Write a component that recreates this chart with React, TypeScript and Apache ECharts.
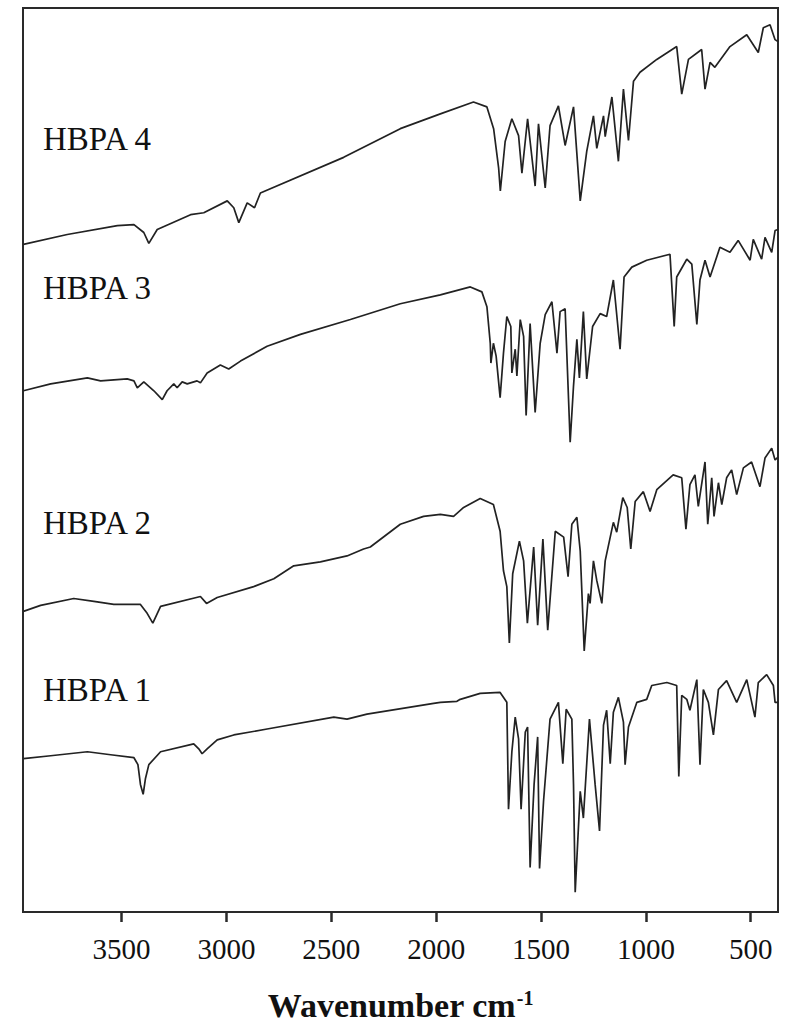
import React, { useEffect, useRef } from "react";
import * as echarts from "echarts";

// Wavenumber (cm-1) and offset transmittance (arbitrary units) for each sample
const hbpa4Wn = [3968, 3759, 3520, 3441, 3394, 3370, 3330, 3171, 3108, 2996, 2965, 2941, 2901, 2866, 2838, 2441, 2171, 1980, 1822, 1758, 1726, 1702, 1694, 1671, 1639, 1607, 1591, 1564, 1528, 1512, 1480, 1457, 1417, 1385, 1345, 1313, 1282, 1250, 1234, 1202, 1194, 1162, 1131, 1107, 1083, 1059, 1028, 948, 853, 829, 797, 734, 718, 694, 671, 599, 519, 464, 440, 408, 384, 370];
const hbpa4T = [675, 685, 694, 695, 687, 676, 690, 705, 707, 719, 712, 697, 717, 712, 727, 763, 792, 807, 819, 814, 792, 752, 729, 779, 802, 785, 747, 802, 734, 797, 732, 795, 815, 775, 814, 719, 769, 805, 772, 805, 784, 824, 759, 832, 780, 840, 849, 862, 875, 827, 862, 872, 832, 859, 854, 875, 887, 869, 894, 897, 882, 880];

const hbpa3Wn = [3968, 3838, 3663, 3600, 3473, 3441, 3425, 3394, 3346, 3306, 3283, 3251, 3235, 3211, 3187, 3140, 3124, 3092, 3029, 2989, 2933, 2806, 2647, 2409, 2171, 1980, 1837, 1782, 1758, 1742, 1739, 1727, 1714, 1695, 1679, 1663, 1644, 1639, 1623, 1615, 1599, 1583, 1571, 1552, 1528, 1504, 1480, 1448, 1424, 1409, 1385, 1361, 1345, 1329, 1317, 1298, 1282, 1254, 1218, 1187, 1155, 1123, 1104, 1067, 996, 885, 865, 853, 805, 781, 757, 742, 718, 694, 647, 599, 560, 503, 488, 448, 432, 400, 384, 370];
const hbpa3T = [527, 534, 540, 537, 539, 537, 530, 536, 527, 518, 527, 534, 530, 536, 534, 537, 535, 545, 553, 549, 557, 572, 584, 599, 615, 624, 632, 627, 612, 575, 555, 575, 562, 520, 565, 602, 592, 545, 569, 542, 599, 582, 502, 595, 505, 575, 604, 617, 565, 607, 610, 475, 532, 579, 540, 607, 539, 592, 605, 602, 639, 569, 642, 652, 659, 665, 592, 642, 660, 655, 594, 639, 659, 642, 672, 667, 679, 659, 680, 660, 682, 667, 689, 690];

const hbpa2Wn = [3968, 3886, 3728, 3632, 3537, 3410, 3378, 3351, 3314, 3124, 3095, 3044, 2870, 2774, 2679, 2552, 2425, 2346, 2314, 2171, 2060, 1980, 1917, 1869, 1790, 1727, 1695, 1679, 1663, 1651, 1635, 1603, 1583, 1565, 1535, 1516, 1491, 1468, 1432, 1392, 1371, 1353, 1329, 1313, 1294, 1274, 1266, 1250, 1234, 1210, 1194, 1155, 1139, 1110, 1089, 1072, 1051, 1012, 980, 948, 870, 829, 809, 790, 766, 750, 718, 705, 686, 675, 654, 638, 615, 591, 567, 535, 496, 456, 432, 400, 384, 370];
const hbpa2T = [304, 310, 317, 314, 311, 311, 302, 292, 309, 319, 312, 318, 329, 337, 350, 354, 360, 367, 369, 392, 400, 402, 400, 409, 418, 412, 385, 345, 329, 272, 342, 375, 355, 292, 369, 290, 377, 285, 385, 379, 339, 392, 399, 365, 264, 322, 312, 355, 335, 312, 355, 394, 384, 419, 409, 367, 415, 425, 405, 427, 442, 439, 387, 432, 442, 410, 455, 392, 439, 400, 434, 412, 439, 447, 422, 449, 455, 430, 459, 469, 457, 460];

const hbpa1Wn = [3968, 3838, 3663, 3552, 3441, 3422, 3410, 3397, 3386, 3370, 3314, 3156, 3132, 3116, 3092, 3044, 2965, 2806, 2488, 2425, 2330, 2012, 1980, 1901, 1885, 1790, 1695, 1663, 1655, 1639, 1623, 1607, 1595, 1575, 1564, 1552, 1533, 1516, 1507, 1488, 1457, 1417, 1396, 1380, 1353, 1345, 1337, 1313, 1298, 1269, 1242, 1221, 1202, 1187, 1170, 1155, 1131, 1107, 1099, 1083, 1043, 996, 972, 900, 853, 843, 829, 805, 790, 757, 742, 726, 702, 678, 654, 615, 567, 519, 480, 464, 424, 392, 384, 370];
const hbpa1T = [155, 158, 162, 159, 156, 149, 129, 119, 135, 149, 162, 170, 165, 160, 165, 174, 179, 185, 197, 195, 200, 211, 212, 213, 215, 221, 222, 212, 104, 162, 197, 175, 104, 182, 187, 45, 129, 177, 44, 112, 195, 212, 150, 205, 195, 129, 20, 122, 95, 195, 129, 82, 189, 204, 150, 202, 217, 192, 149, 187, 212, 215, 229, 232, 229, 137, 219, 215, 204, 235, 149, 225, 212, 179, 225, 234, 212, 235, 197, 232, 240, 229, 212, 212];

const sampleNames = ["HBPA 4", "HBPA 3", "HBPA 2", "HBPA 1"];
const tickValues = [3500, 3000, 2500, 2000, 1500, 1000, 500];

const SERIF = "'Liberation Serif', 'Times New Roman', serif";

function pairs(wn: number[], t: number[]) {
  return wn.map((w, i) => [w, t[i]]);
}

export default function App() {
  const ref = useRef<HTMLDivElement>(null);

  useEffect(() => {
    document.body.style.margin = "0";
    if (!ref.current) return;
    const chart = echarts.init(ref.current, undefined, { renderer: "svg" });
    const spectra = [
      pairs(hbpa4Wn, hbpa4T),
      pairs(hbpa3Wn, hbpa3T),
      pairs(hbpa2Wn, hbpa2T),
      pairs(hbpa1Wn, hbpa1T),
    ];
    const labelY = [139, 288, 523, 690];
    const lineSeries = spectra.map((d, i) => ({
      name: sampleNames[i],
      type: "line",
      data: d,
      showSymbol: false,
      symbol: "none",
      silent: true,
      z: 3,
      lineStyle: { color: "#222222", width: 1.7 },
    }));
    chart.setOption({
      animation: false,
      backgroundColor: "#ffffff",
      grid: {
        left: 23,
        right: 23,
        top: 8,
        bottom: 105,
        show: true,
        borderColor: "#2a2a2a",
        borderWidth: 2,
        backgroundColor: "transparent",
      },
      xAxis: {
        type: "value",
        inverse: true,
        min: 370,
        max: 3970,
        position: "bottom",
        name: "{b|Wavenumber cm}{s|-1}",
        nameLocation: "middle",
        nameGap: 76,
        nameTextStyle: {
          rich: {
            b: { fontFamily: SERIF, fontSize: 34, fontWeight: "bold", color: "#111" },
            s: { fontFamily: SERIF, fontSize: 20, fontWeight: "bold", color: "#111", verticalAlign: "top", padding: [0, 0, 0, 1] },
          },
        },
        axisLine: { show: true, onZero: false, lineStyle: { color: "#2a2a2a", width: 2 } },
        axisTick: {
          show: true,
          inside: false,
          length: 10,
          customValues: tickValues,
          lineStyle: { color: "#2a2a2a", width: 2.5, opacity: 1 },
        },
        axisLabel: {
          show: true,
          customValues: tickValues,
          margin: 22,
          fontFamily: SERIF,
          fontSize: 29,
          color: "#111",
          formatter: (v: number) => String(v),
        },
        splitLine: { show: false },
      },
      yAxis: {
        type: "value",
        min: 0,
        max: 914,
        show: false,
      },
      series: lineSeries,
      graphic: sampleNames.map((n, i) => ({
        type: "text",
        left: 43,
        top: labelY[i] - 17,
        style: {
          text: n,
          fontFamily: SERIF,
          fontSize: 33,
          fill: "#111",
        },
      })),
    });
    return () => chart.dispose();
  }, []);

  return <div ref={ref} style={{ width: 801, height: 1027 }} />;
}
